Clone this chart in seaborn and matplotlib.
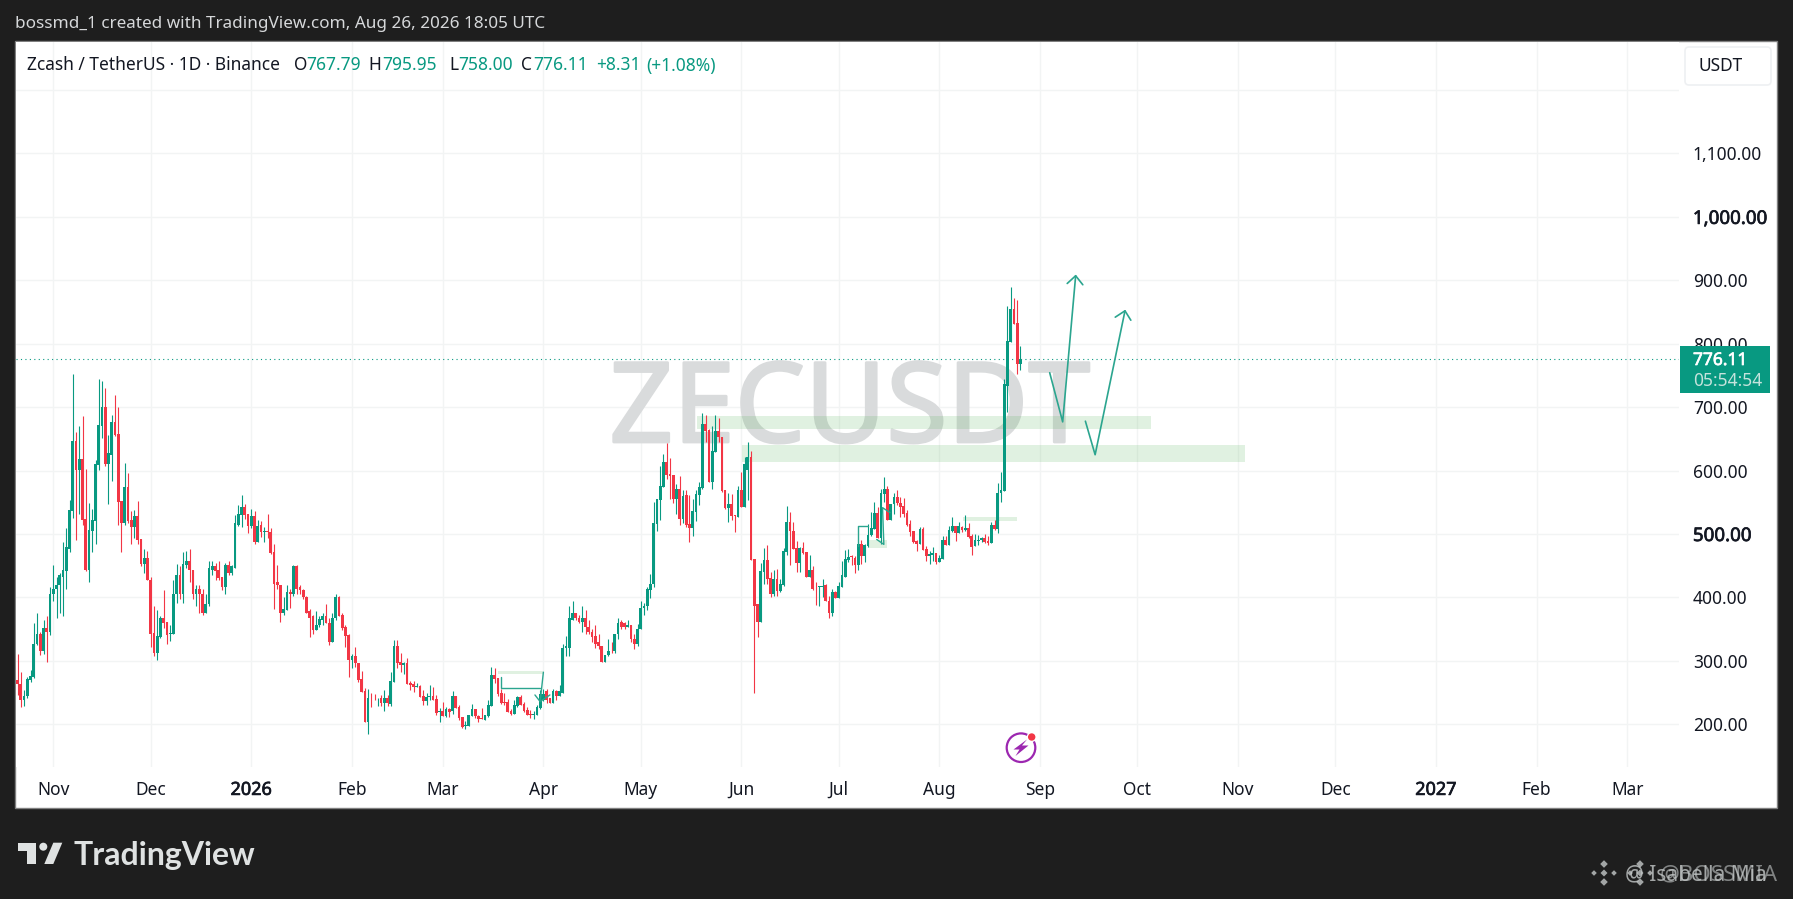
import numpy as np
import pandas as pd
import matplotlib
matplotlib.use("Agg")
import matplotlib.pyplot as plt
import matplotlib.dates as mdates
import matplotlib.patheffects as pe
from matplotlib.patches import Rectangle, Circle, Polygon, FancyBboxPatch
import seaborn as sns

# ---- data ----
first_candle = "2025-10-21"
opens = [
 270,263,238,244,270,275,326,343,316,352, 345,405,413,419,433,441,477,536,647,601,
 618,523,443,504,520,609,670,700,610,625, 677,658,552,518,574,522,511,528,492,452,
 462,428,344,313,338,368,362,343,343,405, 435,405,451,457,444,405,414,406,376,389,
 444,449,443,433,417,451,438,447,515,530, 542,531,512,528,488,514,503,504,503,471,
 424,420,376,381,408,405,449,416,412,401, 378,370,349,356,365,370,360,329,367,401,
 373,354,341,302,307,297,272,253,204,242, 242,241,242,234,242,232,267,324,299,294,
 297,265,264,259,261,245,237,243,245,240, 220,221,213,224,221,245,227,212,197,197,
 213,224,213,210,207,213,229,278,273,250, 235,235,221,216,229,243,232,223,216,215,
 215,226,238,253,242,234,253,245,250,321, 321,365,375,368,361,368,354,346,340,329,
 323,299,310,316,315,342,361,359,354,356, 335,326,350,383,386,411,421,516,554,574,
 614,595,593,555,571,524,561,516,509,535, 562,573,674,664,582,630,663,653,569,541,
 547,530,527,569,542,601,622,460,389,361, 440,459,430,406,429,410,419,471,519,505,
 478,454,478,471,433,443,417,416,416,419, 395,375,408,399,416,433,459,465,462,451,
 484,465,481,498,508,533,494,563,571,522, 547,559,549,544,533,516,505,489,484,508,
 476,465,467,470,456,461,491,483,505,513, 502,511,506,510,497,481,489,490,494,489,
 486,514,508,565,568,734,802,854,832,767.79]
highs = [
 311,283,254,274,286,360,376,345,365,370, 416,451,433,438,487,509,553,753,661,670,
 686,602,549,539,617,745,742,731,656,688, 719,700,552,612,596,536,538,552,492,476,
 473,432,387,381,371,411,362,356,427,452, 449,471,473,477,444,420,419,413,406,458,
 457,454,458,433,454,457,451,530,545,561, 547,531,539,536,522,520,511,531,509,485,
 451,420,401,420,414,451,451,419,414,403, 382,373,378,370,376,389,367,376,406,403,
 375,357,343,311,322,297,284,257,256,250, 248,242,246,254,246,283,333,333,313,299,
 305,269,269,265,262,254,250,262,259,246, 226,235,227,226,253,245,231,212,205,215,
 232,224,215,226,215,238,291,289,273,256, 250,240,224,238,245,246,235,227,223,221,
 231,254,255,256,242,256,254,262,326,340, 387,394,375,372,386,381,364,351,356,343,
 323,310,335,329,343,367,364,362,365,356, 343,358,394,392,416,437,550,555,607,626,
 644,620,593,579,592,569,569,561,555,569, 582,691,687,666,671,688,683,653,569,565,
 563,530,576,598,621,645,631,460,389,454, 478,482,440,443,445,429,478,544,535,519,
 489,479,487,471,467,449,424,418,429,422, 403,414,410,424,457,475,476,467,465,484,
 490,484,516,535,550,542,571,590,576,547, 565,570,559,557,538,522,505,491,511,511,
 481,473,480,470,467,497,497,513,527,513, 519,513,530,518,500,500,499,495,500,497,
 519,522,581,597,745,859,889,872,869,795.95]
lows = [
 246,227,229,242,267,273,325,310,311,299, 341,395,368,376,371,413,471,526,490,531,
 514,441,425,471,485,601,651,607,547,583, 655,514,471,515,517,484,493,484,449,439,
 427,322,307,302,336,352,327,332,343,392, 398,392,447,424,397,387,375,373,375,386,
 436,428,428,411,406,436,436,446,512,511, 523,501,509,484,488,496,487,493,468,382,
 414,362,373,381,384,403,405,405,398,376, 337,343,349,354,356,359,325,329,365,371,
 348,322,275,288,291,267,251,204,185,227, 238,229,229,221,229,229,267,289,283,280,
 264,254,251,259,243,231,231,238,238,215, 204,213,212,212,216,226,207,194,192,197,
 213,210,204,208,207,212,229,265,245,232, 230,219,215,216,227,230,219,215,210,208,
 215,224,236,233,234,234,238,245,250,308, 308,364,365,359,345,343,343,329,321,318,
 299,299,307,313,312,335,351,351,354,329, 318,324,350,372,380,399,416,505,522,574,
 587,555,549,531,514,517,511,487,497,520, 546,571,645,582,571,630,645,566,539,519,
 522,503,527,542,542,554,459,250,337,361, 422,421,400,403,403,408,418,467,451,476,
 440,440,468,432,433,411,388,386,400,394, 368,370,399,399,416,433,456,451,438,444,
 452,456,479,497,508,494,484,550,522,522, 532,546,527,527,513,497,486,473,484,475,
 457,453,457,453,456,461,483,483,503,489, 502,503,505,494,467,481,483,488,486,483,
 486,506,502,551,568,693,802,831,752,758.00]
closes = [
 263,238,245,272,276,327,343,316,352,345, 406,414,420,435,443,479,538,647,601,618,
 522,443,506,522,610,672,700,610,628,677, 656,550,518,574,520,511,528,490,452,462,
 428,343,313,340,368,360,341,344,406,435, 405,452,457,443,405,414,405,376,390,446,
 449,441,431,417,451,438,449,517,531,542, 530,512,528,488,512,503,504,503,470,422,
 419,376,382,408,405,449,414,411,400,376, 368,349,357,366,370,359,329,368,401,371,
 352,340,302,307,296,270,251,204,242,241, 241,242,234,242,233,269,324,297,294,297,
 264,262,259,261,243,237,243,245,238,218, 221,213,224,219,245,226,210,196,199,215,
 224,213,208,208,215,231,278,272,248,234, 234,219,216,231,243,230,221,215,215,216,
 227,248,248,238,234,253,245,253,321,323, 367,375,367,361,368,353,345,338,327,323,
 299,310,316,315,342,359,354,353,356,335, 326,351,384,387,413,422,517,555,576,614,
 593,592,555,571,524,560,514,509,536,563, 574,674,663,582,631,663,653,568,541,547,
 528,528,569,542,611,622,459,387,361,441, 459,429,406,429,410,421,473,519,505,476,
 454,478,470,433,443,414,416,418,418,394, 375,408,399,418,435,460,463,463,451,484,
 465,482,498,509,533,494,565,571,522,547, 559,549,543,532,514,503,488,484,508,475,
 465,469,470,456,462,491,483,506,513,502, 513,506,510,495,480,491,491,494,488,486,
 514,508,565,570,736,804,854,831,768,776.11]

price_ticks = [200,300,400,500,600,700,800,900,1000,1100,1200]
price_labels = ["200.00","300.00","400.00","500.00","600.00","700.00","800.00","900.00","1,000.00","1,100.00",""]
bold_prices = ["500.00","1,000.00"]
month_ticks = ["2025-11-01","2025-12-01","2026-01-01","2026-02-01","2026-03-01","2026-04-01","2026-05-01",
               "2026-06-01","2026-07-01","2026-08-01","2026-09-01","2026-10-01","2026-11-01","2026-12-01",
               "2027-01-01","2027-02-01","2027-03-01"]
month_labels = ["Nov","Dec","2026","Feb","Mar","Apr","May","Jun","Jul","Aug","Sep","Oct","Nov","Dec","2027","Feb","Mar"]
bold_months = ["2026","2027"]
last_close = 776.11

# drawn zones: day offset from 2025-11-01 (start, end), price (low, high)
zone_day0 = [198.2, 212.2, 280.3, 251.0, 137.0]
zone_day1 = [338.2, 367.2, 297.0, 257.0, 151.0]
zone_low  = [665.5, 613.8, 521.0, 478.0, 279.0]
zone_high = [685.6, 640.0, 527.5, 490.0, 284.0]

# drawn paths: day offset, price
path1_days = [307, 311, 315]; path1_px = [754.3, 676.8, 907.2]
head1_days = [312.4, 315, 317.2]; head1_px = [895, 907.2, 893]
path2_days = [318, 321, 330.2]; path2_px = [677.9, 625, 851.9]
head2_days = [327.2, 330.2, 332]; head2_px = [841.9, 851.9, 837.1]
path3_days = [138, 138, 150.1]; path3_px = [274, 256.9, 256.9]
path4_days = [151, 150, 148.4]; path4_px = [282.2, 235.8, 246.3]
head4_days = [150, 153]; head4_px = [235.8, 246.3]
path5_days = [247.8, 247.8, 251.1]; path5_px = [481, 513.1, 513.1]
path6_days = [257.8, 255.5, 255.9, 253.7]; path6_px = [533.7, 541.6, 483.6, 491.5]

# ---- colours ----
GREEN = "#089981"; RED = "#F23645"; BG = "#1E1E1E"; GRID = "#F2F4F4"; LINE = "#2BA58F"
W, H = 1793, 899
FS = 12.5

sns.set_theme(style="white")
plt.rcParams["font.family"] = ["Noto Sans", "DejaVu Sans"]

fig = plt.figure(figsize=(W/100, H/100), dpi=100, facecolor=BG)
def fx(x): return x/W
def fy(y): return 1 - y/H

def embolden(text, colour, width=0.5):
    text.set_path_effects([pe.withStroke(linewidth=width, foreground=colour)])

fig.add_artist(Rectangle((fx(15), fy(808)), (1777-15)/W, (808-41)/H, transform=fig.transFigure,
                         facecolor="white", edgecolor="#808080", linewidth=1.0, zorder=-1))
ax = fig.add_axes([fx(15.5), fy(767), (1679-15.5)/W, (767-41.5)/H], facecolor="white")

df = pd.DataFrame({"date": pd.date_range(first_candle, periods=len(opens), freq="D"),
                   "open": opens, "high": highs, "low": lows, "close": closes})
df["x"] = mdates.date2num(df["date"])
df["dir"] = np.where(df["close"] >= df["open"], "up", "down")
palette = {"up": GREEN, "down": RED}

wicks = pd.concat([df[["x", "dir"]].assign(price=df["low"], unit=df.index),
                   df[["x", "dir"]].assign(price=df["high"], unit=df.index)]).sort_values(["unit", "price"])
sns.lineplot(data=wicks, x="x", y="price", hue="dir", units="unit", estimator=None, sort=False,
             palette=palette, linewidth=0.8, solid_capstyle="butt", legend=False, ax=ax, zorder=4)
ax.bar(df["x"], (df["close"]-df["open"]).abs().clip(lower=1.2), bottom=df[["open", "close"]].min(axis=1),
       width=0.84, color=df["dir"].map(palette), linewidth=0, zorder=5)

base = mdates.date2num(pd.Timestamp("2025-11-01"))
def dx(days): return [base + d for d in days]

ax.set_xlim(base - 11.65, base + 500.9)
ax.set_ylim(132.7, 1276.5)

# watermark
wm = ax.text((609.5-15.5)/(1679-15.5), (767-442)/(767-41.5), "ZECUSDT", transform=ax.transAxes, fontsize=80,
             color="#D9DBDC", ha="left", va="baseline", zorder=1, fontfamily="Noto Sans")
embolden(wm, "#D9DBDC", 2.0)

# zones
for d0, d1, lo, hi in zip(zone_day0, zone_day1, zone_low, zone_high):
    ax.add_patch(Rectangle((base+d0, lo), d1-d0, hi-lo, facecolor="#4CAF50", alpha=0.17, linewidth=0, zorder=2))

# drawn paths
for dd, pp, lw in [(path1_days, path1_px, 1.2), (head1_days, head1_px, 1.2), (path2_days, path2_px, 1.2),
                   (head2_days, head2_px, 1.2), (path3_days, path3_px, 1.0), (path4_days, path4_px, 1.0),
                   (head4_days, head4_px, 1.0), (path5_days, path5_px, 1.0), (path6_days, path6_px, 1.0)]:
    sns.lineplot(x=dx(dd), y=pp, sort=False, estimator=None, color=LINE, linewidth=lw, ax=ax, zorder=6)

# last price line
ax.axhline(last_close, color=GREEN, linewidth=0.8, linestyle=(0, (1, 3)), zorder=3)

# grid + ticks
ax.set_xticks(mdates.date2num(pd.to_datetime(month_ticks)))
ax.set_xticklabels(month_labels)
ax.set_yticks(price_ticks)
ax.set_yticklabels(price_labels)
ax.yaxis.tick_right()
ax.grid(True, color=GRID, linewidth=1.0, zorder=0)
ax.set_axisbelow(True)
ax.tick_params(axis="both", length=0, labelsize=FS, labelcolor="#131722")
ax.tick_params(axis="y", pad=10)
ax.tick_params(axis="x", pad=10)
for t in ax.get_yticklabels():
    t.set_horizontalalignment("left")
    if t.get_text() in bold_prices:
        t.set_fontsize(13.5)
        embolden(t, "#131722")
for t in ax.get_xticklabels():
    if t.get_text() in bold_months:
        t.set_fontsize(13)
        embolden(t, "#131722")
ax.set_xlabel(""); ax.set_ylabel("")
for s in ax.spines.values():
    s.set_visible(False)

# header
fig.text(fx(15), fy(24.5), "bossmd_1 created with TradingView.com, Aug 26, 2026 18:05 UTC",
         color="#D6D8DA", fontsize=12.3, va="center", ha="left")
# legend row
TXT = "#131722"
Y = 65.5
fig.text(fx(27), fy(Y), "Zcash / TetherUS · 1D · Binance", color=TXT, fontsize=FS, va="center")
for x0, lab, x1, val in [(294, "O", 306, "767.79"), (368, "H", 382, "795.95"), (449, "L", 458, "758.00"), (521, "C", 533, "776.11")]:
    fig.text(fx(x0), fy(Y), lab, color=TXT, fontsize=FS, va="center")
    fig.text(fx(x1), fy(Y), val, color=GREEN, fontsize=FS, va="center")
fig.text(fx(596), fy(Y), "+8.31", color=GREEN, fontsize=FS, va="center")
fig.text(fx(646), fy(Y), "(+1.08%)", color=GREEN, fontsize=FS, va="center")

# currency button
fig.add_artist(FancyBboxPatch((1685, H-85), 86, 38, boxstyle="round,pad=0,rounding_size=4",
                              transform=None, facecolor="white", edgecolor="#EEF0F2", linewidth=1.2, zorder=4))
fig.text(fx(1699), fy(66), "USDT", color=TXT, fontsize=FS, va="center", zorder=5)

# last price tag
fig.add_artist(Rectangle((fx(1680), fy(393)), 90/W, 47/H, transform=fig.transFigure,
                         facecolor=GREEN, linewidth=0, zorder=5))
tag = fig.text(fx(1693), fy(360), "776.11", color="white", fontsize=FS, va="center", zorder=6)
embolden(tag, "white")
fig.text(fx(1693), fy(381), "05:54:54", color="#C5E3DC", fontsize=FS, va="center", zorder=6)

# lightning badge
def P(*pts):
    return [(fx(x), fy(y)) for x, y in pts]
fig.add_artist(Circle((1021, H-747.7), 14.3, transform=None, facecolor="none", edgecolor="#9C27B0", linewidth=1.6, zorder=6))
fig.add_artist(Polygon(P((1027,739.5),(1013.5,749.5),(1019.5,749.5),(1015.5,756),(1028.5,745.5),(1022,745.5)),
                       transform=fig.transFigure, facecolor="#9C27B0", linewidth=0, zorder=6))
fig.add_artist(Circle((1031.7, H-737), 5, transform=None, facecolor="white", linewidth=0, zorder=6))
fig.add_artist(Circle((1031.7, H-737), 3.7, transform=None, facecolor=RED, linewidth=0, zorder=7))

# TradingView wordmark
LOGO = "#DFE2E2"
fig.add_artist(Polygon(P((18.3,842.7),(35.7,842.7),(35.7,864),(27.3,864),(27.3,850.7),(18.3,850.7)),
                       transform=fig.transFigure, facecolor=LOGO, linewidth=0))
fig.add_artist(Circle((43.3, H-846.7), 4, transform=None, facecolor=LOGO, linewidth=0))
fig.add_artist(Polygon(P((53.3,842.7),(62.3,842.7),(53.3,864),(44.3,864)),
                       transform=fig.transFigure, facecolor=LOGO, linewidth=0))
fig.text(fx(73), fy(855), "TradingView", color=LOGO, fontsize=23, fontweight="bold", va="center", fontfamily="Lato")

# source stamp
STAMP = "#C4C8C8"
def diamond(cx, cy):
    for ox, oy, r in [(0, -9, 3.8), (0, 9, 3.8), (-10, 0, 2.8), (10, 0, 2.8), (0, 0, 3.5)]:
        fig.add_artist(Polygon(P((cx+ox-r, cy+oy), (cx+ox, cy+oy-r), (cx+ox+r, cy+oy), (cx+ox, cy+oy+r)),
                               transform=fig.transFigure, facecolor=STAMP, alpha=0.8, linewidth=0))
diamond(1604, 873); diamond(1640, 873)
fig.text(fx(1625), fy(875), "@ Isabella Mia", color=STAMP, fontsize=15, va="center", alpha=0.8)
fig.text(fx(1660), fy(875), "@BOSSMIA", color=STAMP, fontsize=16, va="center", alpha=0.6)

fig.savefig("out.png", dpi=100, facecolor=BG)
